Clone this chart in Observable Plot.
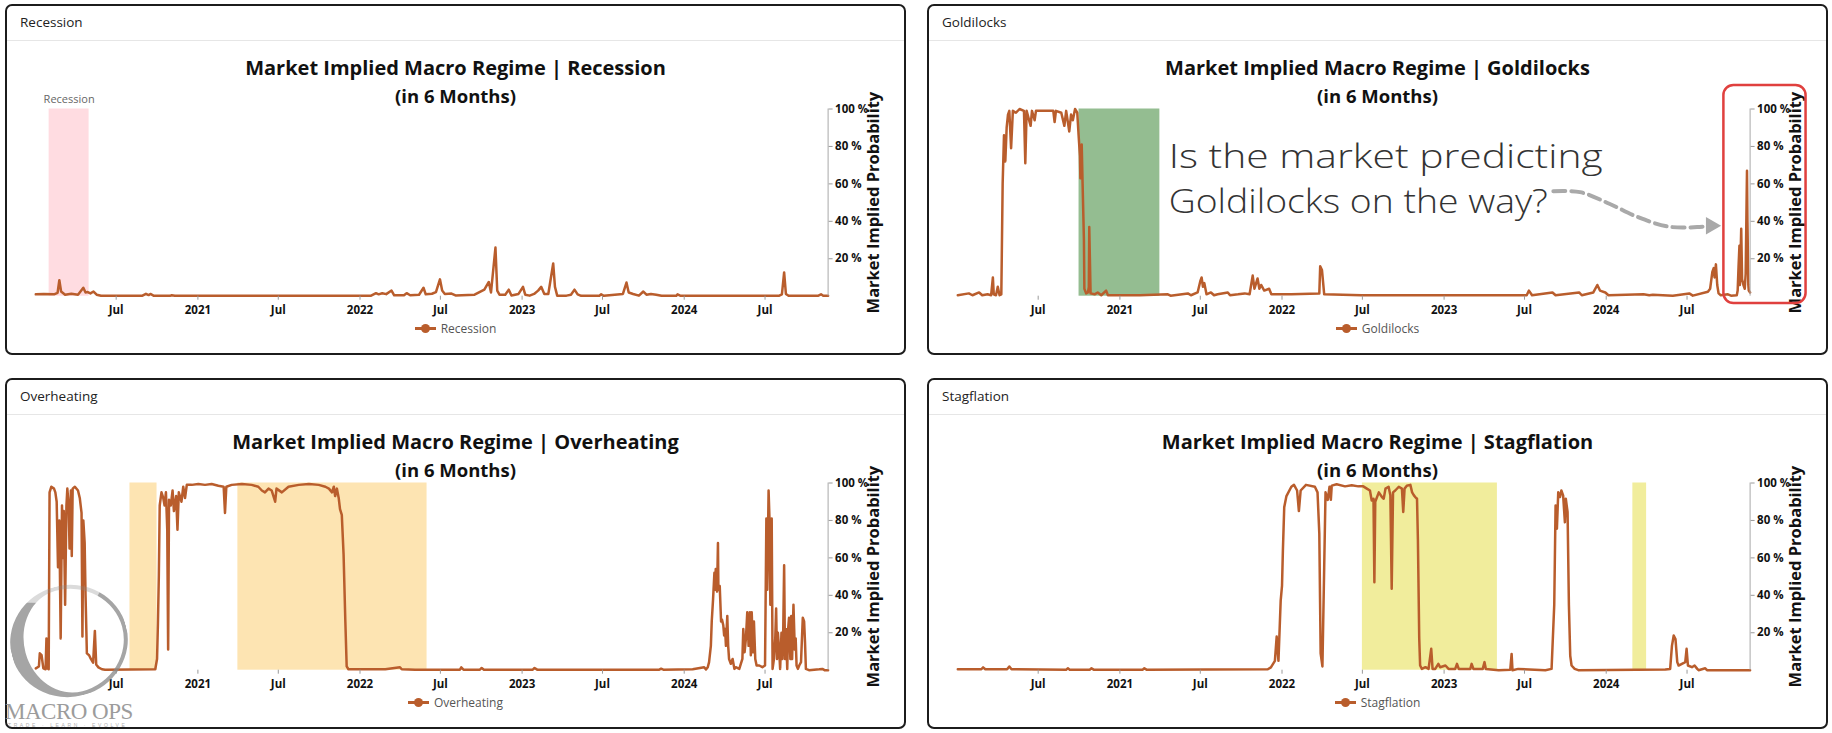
<!DOCTYPE html>
<html>
<head>
<meta charset="utf-8">
<script src="https://cdn.jsdelivr.net/npm/d3@7"></script>
<script src="https://cdn.jsdelivr.net/npm/@observablehq/plot@0.6"></script>
<style>
html,body{margin:0;padding:0;background:#fff;}
body{width:1832px;height:733px;position:relative;overflow:hidden;font-family:"Open Sans",sans-serif;}
.panel{position:absolute;box-sizing:border-box;width:901px;height:351px;border:2px solid #1c1c1c;border-radius:7px;background:#fff;}
.hdr{position:absolute;left:13px;top:7px;font-size:13.5px;line-height:19px;color:#222;}
.sep{position:absolute;left:0;right:0;top:34px;height:1px;background:#e6e6e6;}
.ttl{position:absolute;left:0;right:0;top:49px;text-align:center;font-weight:700;font-size:20px;line-height:26px;color:#111;}
.sub{position:absolute;left:0;right:0;top:78px;text-align:center;font-weight:700;font-size:18.5px;line-height:24px;color:#111;}
.legend{position:absolute;left:0;right:0;top:313px;height:18px;display:flex;justify-content:center;align-items:center;font-size:12px;color:#555;}
.legend .mk{position:relative;width:21px;height:18px;margin-right:5px;}
.legend .mk:before{content:"";position:absolute;left:0;right:0;top:8px;height:2.5px;background:#b95d2c;}
.legend .mk:after{content:"";position:absolute;left:6px;top:5px;width:9px;height:9px;border-radius:50%;background:#b95d2c;}
.chart g[aria-label="x-axis tick"], .chart g[aria-label="y-axis tick"]{stroke:#9a9a9a;}
.wm-ring{position:absolute;left:10px;top:585px;width:118px;height:112px;box-sizing:border-box;border-radius:50%;border:4px solid rgba(135,135,135,0.75);border-left-width:14px;border-top-color:rgba(135,135,135,0.3);z-index:5;transform:rotate(-15deg);}
.wm-text{position:absolute;left:5px;top:699px;font-family:"Liberation Serif",serif;font-size:23px;line-height:26px;color:#9c9c9c;z-index:5;letter-spacing:-0.5px;}
.wm-small{position:absolute;left:8px;top:722px;font-family:"Liberation Sans",sans-serif;font-size:5px;letter-spacing:2.6px;color:#b0b0b0;z-index:5;}
</style>
</head>
<body>
<script>
// ---------- DATA ----------
const xDomain = ["2020-01-02", "2024-11-20"];
const xTickDates = ["2020-07-01","2021-01-01","2021-07-01","2022-01-01","2022-07-01","2023-01-01","2023-07-01","2024-01-01","2024-07-01"];
const xTickLabels = ["Jul","2021","Jul","2022","Jul","2023","Jul","2024","Jul"];
const yTicks = [20, 40, 60, 80, 100];

const recessionSeries = [["2020-01-02",1],["2020-01-20",1.2],["2020-02-12",1],["2020-02-20",1.8],["2020-02-24",8.5],["2020-02-28",2.5],["2020-03-08",0.8],["2020-03-22",1.3],["2020-04-06",0.8],["2020-04-18",4.5],["2020-04-23",2],["2020-04-28",2.2],["2020-05-04",1.5],["2020-05-11",2.5],["2020-05-18",0.8],["2020-05-28",0.2],["2020-08-28",0.2],["2020-09-06",1.3],["2020-09-12",0.6],["2020-09-16",1.2],["2020-09-24",0.2],["2020-10-30",0.2],["2020-11-03",0.5],["2020-11-10",0.2],["2022-01-25",0.2],["2022-02-06",1.6],["2022-02-12",1],["2022-02-20",1.6],["2022-03-01",1.1],["2022-03-13",3],["2022-03-19",0.5],["2022-04-10",0.5],["2022-04-16",1.6],["2022-04-24",0.5],["2022-05-14",0.8],["2022-05-24",4.5],["2022-05-29",1],["2022-06-12",1.3],["2022-06-21",2.2],["2022-06-30",9],["2022-07-05",3],["2022-07-11",1.2],["2022-07-26",1.4],["2022-08-04",0.4],["2022-09-16",0.8],["2022-10-08",3.5],["2022-10-18",7.6],["2022-10-23",2],["2022-11-02",26],["2022-11-06",3],["2022-11-11",0.8],["2022-11-24",0.8],["2022-12-02",3.5],["2022-12-08",0.4],["2022-12-24",1.2],["2023-01-03",5],["2023-01-08",0.8],["2023-01-18",0.3],["2023-01-28",1.2],["2023-02-06",3],["2023-02-13",5],["2023-02-20",1.2],["2023-03-01",1.2],["2023-03-12",17.5],["2023-03-16",5],["2023-03-21",0.3],["2023-04-11",0.3],["2023-04-21",0.8],["2023-04-29",3.5],["2023-05-06",1],["2023-05-14",0.2],["2023-06-24",0.3],["2023-06-28",1],["2023-07-04",0.2],["2023-08-16",1.2],["2023-08-24",7.3],["2023-08-29",2],["2023-09-08",1.2],["2023-09-21",0.3],["2023-10-01",2.5],["2023-10-08",0.8],["2023-10-18",1.2],["2023-10-30",0.8],["2023-11-11",0.2],["2023-12-14",0.2],["2023-12-17",1],["2023-12-24",0.2],["2024-08-01",0.2],["2024-08-08",1],["2024-08-13",12.7],["2024-08-17",1.2],["2024-08-23",0.2],["2024-10-28",0.2],["2024-11-04",1],["2024-11-09",0.2],["2024-11-20",0.2]];

const goldilocksSeries = [["2020-01-02",0.5],["2020-01-27",1.5],["2020-02-04",0.5],["2020-02-19",2],["2020-02-26",0.5],["2020-03-09",1],["2020-03-17",0.5],["2020-03-21",10],["2020-03-23",1],["2020-03-28",0.5],["2020-04-01",5],["2020-04-05",0.5],["2020-04-09",1],["2020-04-12",60],["2020-04-15",86],["2020-04-18",72],["2020-04-21",90],["2020-04-24",97],["2020-04-27",99],["2020-05-01",79],["2020-05-05",99],["2020-05-12",98],["2020-05-20",100],["2020-05-30",99],["2020-06-02",71],["2020-06-05",99],["2020-06-14",91],["2020-06-17",99],["2020-06-23",94],["2020-06-26",99],["2020-07-15",99],["2020-08-04",99],["2020-08-07",93],["2020-08-10",99],["2020-08-22",98],["2020-08-29",91],["2020-09-02",99],["2020-09-09",88],["2020-09-13",97],["2020-09-17",94],["2020-09-22",100],["2020-09-27",98],["2020-09-30",86],["2020-10-03",75],["2020-10-04",63],["2020-10-07",81],["2020-10-09",60],["2020-10-12",30],["2020-10-13",4],["2020-10-17",1.5],["2020-10-21",2],["2020-10-23",5],["2020-10-24",37],["2020-10-27",1.5],["2020-11-05",1],["2020-11-12",2],["2020-11-20",0.5],["2020-12-01",3],["2020-12-05",0.5],["2021-02-15",0.5],["2021-04-19",1],["2021-04-25",0.3],["2021-06-03",1.5],["2021-06-10",0.5],["2021-06-25",2],["2021-07-01",8],["2021-07-04",10],["2021-07-07",5],["2021-07-10",7],["2021-07-15",1],["2021-07-25",2],["2021-08-01",0.5],["2021-08-09",1],["2021-09-01",2],["2021-09-06",0.5],["2021-09-24",1],["2021-10-09",1.5],["2021-10-20",1],["2021-10-27",11],["2021-10-31",4],["2021-11-07",9.5],["2021-11-11",4],["2021-11-15",6],["2021-11-22",3],["2021-12-03",4],["2021-12-08",1],["2022-01-22",1],["2022-03-26",1.5],["2022-03-28",16],["2022-04-01",14],["2022-04-06",1],["2022-06-29",0.5],["2023-07-06",0.5],["2023-07-11",3],["2023-07-18",0.5],["2023-09-02",2],["2023-09-09",0.5],["2023-11-01",2],["2023-11-07",0.5],["2023-12-03",2],["2023-12-12",6],["2023-12-18",3],["2023-12-30",2],["2024-01-06",0.5],["2024-03-25",1],["2024-04-07",0.5],["2024-04-15",0.8],["2024-05-30",0.3],["2024-07-06",1.5],["2024-07-14",0.3],["2024-08-17",2.4],["2024-08-22",4],["2024-08-27",13],["2024-08-30",15],["2024-09-01",10],["2024-09-04",17],["2024-09-07",6],["2024-09-10",1.5],["2024-09-15",0.5],["2024-10-01",1],["2024-10-08",0.3],["2024-10-21",0.5],["2024-10-23",3],["2024-10-25",16],["2024-10-27",27],["2024-10-28",6],["2024-10-31",36],["2024-11-02",9],["2024-11-05",6],["2024-11-08",4],["2024-11-10",12],["2024-11-13",67],["2024-11-14",40],["2024-11-16",6],["2024-11-17",3],["2024-11-20",2]];

const overheatingSeries = [["2020-01-02",1],["2020-01-09",2],["2020-01-11",9],["2020-01-15",8],["2020-01-19",1],["2020-01-24",0.5],["2020-01-26",17],["2020-01-28",1],["2020-01-31",0.5],["2020-02-02",95],["2020-02-06",98],["2020-02-12",97],["2020-02-15",95],["2020-02-18",90],["2020-02-21",55],["2020-02-24",80],["2020-02-27",17],["2020-03-01",88],["2020-03-03",60],["2020-03-05",85],["2020-03-08",35],["2020-03-11",88],["2020-03-13",97],["2020-03-16",88],["2020-03-18",65],["2020-03-21",96],["2020-03-23",61],["2020-03-25",97],["2020-03-30",98],["2020-04-06",96],["2020-04-10",92],["2020-04-14",84],["2020-04-16",18],["2020-04-18",80],["2020-04-21",68],["2020-04-23",40],["2020-04-26",9],["2020-05-01",8],["2020-05-05",6],["2020-05-10",4],["2020-05-14",21],["2020-05-17",3],["2020-05-22",1.5],["2020-05-30",0.5],["2020-06-06",0.2],["2020-09-27",0.5],["2020-10-01",6],["2020-10-03",25],["2020-10-05",50],["2020-10-07",88],["2020-10-11",95],["2020-10-15",92],["2020-10-18",88],["2020-10-21",95],["2020-10-24",75],["2020-10-26",11],["2020-10-28",91],["2020-11-01",88],["2020-11-05",96],["2020-11-08",85],["2020-11-13",93],["2020-11-16",75],["2020-11-19",95],["2020-11-25",90],["2020-11-29",98],["2020-12-03",92],["2020-12-07",99],["2020-12-18",99],["2021-01-02",99.5],["2021-01-17",99],["2021-02-01",99.5],["2021-02-16",98.5],["2021-02-28",98],["2021-03-03",84],["2021-03-06",98],["2021-03-18",99],["2021-04-10",99.5],["2021-05-02",99],["2021-05-17",98],["2021-05-25",96],["2021-06-01",95],["2021-06-09",97],["2021-06-16",96],["2021-06-24",90],["2021-06-27",97],["2021-07-09",95],["2021-07-24",98],["2021-08-16",99],["2021-09-08",99.5],["2021-09-30",99],["2021-10-15",98],["2021-10-23",97],["2021-10-30",95],["2021-11-03",98],["2021-11-06",93],["2021-11-10",97],["2021-11-14",92],["2021-11-17",86],["2021-11-21",83],["2021-11-25",62],["2021-11-29",26],["2021-12-02",2],["2021-12-06",0.5],["2022-01-13",0.5],["2022-02-27",0.5],["2022-04-01",1.6],["2022-04-05",0.5],["2022-05-05",0.3],["2022-08-14",0.3],["2022-08-17",1.5],["2022-08-22",0.3],["2022-09-28",0.3],["2022-10-02",1.2],["2022-10-07",0.3],["2023-01-25",0.3],["2023-01-29",1.2],["2023-02-04",0.3],["2023-11-06",0.3],["2023-11-10",0.8],["2023-11-15",0.3],["2024-01-20",0.5],["2024-02-15",1.6],["2024-02-19",0.4],["2024-02-23",1.6],["2024-02-26",4.3],["2024-03-01",13],["2024-03-03",26],["2024-03-06",38],["2024-03-09",52],["2024-03-11",43],["2024-03-12",54],["2024-03-15",42],["2024-03-17",68],["2024-03-18",43],["2024-03-21",45],["2024-03-24",26],["2024-03-26",27],["2024-03-29",24],["2024-03-31",18.5],["2024-04-02",22],["2024-04-04",13],["2024-04-07",29],["2024-04-09",13],["2024-04-11",6],["2024-04-15",3.4],["2024-04-19",6],["2024-04-23",0.7],["2024-04-26",1.6],["2024-05-04",0.7],["2024-05-11",6],["2024-05-13",22],["2024-05-16",9.6],["2024-05-19",17],["2024-05-22",31],["2024-05-25",13],["2024-05-28",31],["2024-05-30",8],["2024-06-01",31],["2024-06-04",9.6],["2024-06-06",26],["2024-06-09",6],["2024-06-12",2.5],["2024-06-18",2.5],["2024-06-25",1.6],["2024-07-01",2.5],["2024-07-04",81],["2024-07-06",43],["2024-07-09",96],["2024-07-11",81],["2024-07-13",35],["2024-07-16",81],["2024-07-18",0.7],["2024-07-21",6],["2024-07-24",17],["2024-07-26",33],["2024-07-28",6],["2024-07-30",20],["2024-08-02",9.6],["2024-08-04",0.7],["2024-08-07",20],["2024-08-09",6],["2024-08-11",22],["2024-08-13",56],["2024-08-15",6],["2024-08-17",22],["2024-08-20",0.7],["2024-08-22",22],["2024-08-24",28],["2024-08-27",6],["2024-08-29",29],["2024-08-31",6],["2024-09-03",35],["2024-09-06",11],["2024-09-08",17],["2024-09-10",2.5],["2024-09-13",0.7],["2024-09-16",2.5],["2024-09-20",4.3],["2024-09-24",28],["2024-09-27",26],["2024-09-29",15],["2024-10-01",0.7],["2024-10-08",0],["2024-10-31",0.5],["2024-11-07",0.7],["2024-11-12",0],["2024-11-20",0]];

const stagflationSeries = [["2020-01-02",0.5],["2020-02-24",0.5],["2020-02-28",1.5],["2020-03-04",0.5],["2020-04-22",0.5],["2020-04-27",2],["2020-05-02",0.5],["2020-09-02",0.3],["2020-09-06",1],["2020-09-10",0.3],["2020-10-25",0.3],["2020-10-29",1],["2020-11-03",0.3],["2021-02-21",0.3],["2021-02-25",1],["2021-03-02",0.3],["2021-11-30",0.5],["2021-12-07",1.5],["2021-12-16",5],["2021-12-20",18],["2021-12-24",5],["2021-12-29",37],["2022-01-01",45],["2022-01-03",64],["2022-01-06",87],["2022-01-11",93],["2022-01-22",98],["2022-01-28",99],["2022-02-04",96],["2022-02-08",85],["2022-02-12",96],["2022-02-24",99],["2022-03-16",98],["2022-03-22",95],["2022-03-26",73],["2022-03-29",9],["2022-04-02",2],["2022-04-06",55],["2022-04-09",95],["2022-04-14",91],["2022-04-18",98],["2022-04-21",91],["2022-04-23",98.6],["2022-05-04",99.3],["2022-05-23",98.2],["2022-06-07",98.8],["2022-06-22",98.2],["2022-07-03",98.2],["2022-07-11",97],["2022-07-18",96],["2022-07-22",90.7],["2022-07-26",91.6],["2022-07-28",47],["2022-07-30",90],["2022-08-07",95],["2022-08-14",92.5],["2022-08-18",91.6],["2022-08-22",97],["2022-08-29",98],["2022-09-02",93.4],["2022-09-05",43.5],["2022-09-08",95],["2022-09-13",96],["2022-09-21",98],["2022-09-28",97],["2022-10-01",84.5],["2022-10-04",97],["2022-10-09",98.5],["2022-10-17",99],["2022-10-21",95],["2022-10-25",93.4],["2022-10-28",92.5],["2022-11-01",91.6],["2022-11-03",70],["2022-11-06",17],["2022-11-08",2.5],["2022-11-12",0.7],["2022-11-20",1.6],["2022-11-27",0.7],["2022-12-03",11.4],["2022-12-06",0.7],["2022-12-12",0.7],["2022-12-19",3.4],["2022-12-23",1.6],["2023-01-04",2.5],["2023-01-11",0.7],["2023-01-26",0.7],["2023-01-30",3.4],["2023-02-03",0.7],["2023-03-01",0.7],["2023-03-04",3.4],["2023-03-08",0.7],["2023-03-29",0.7],["2023-04-02",4.3],["2023-04-05",0.7],["2023-05-04",0],["2023-05-30",0.3],["2023-06-02",8.7],["2023-06-04",0],["2023-06-17",0.7],["2023-08-17",0],["2023-08-31",0.7],["2023-09-06",35],["2023-09-09",88],["2023-09-12",75.6],["2023-09-15",95],["2023-09-19",92.5],["2023-09-22",96],["2023-09-26",93.4],["2023-09-30",79],["2023-10-02",91.6],["2023-10-06",84.5],["2023-10-09",35],["2023-10-12",7.7],["2023-10-15",2.5],["2023-10-22",0.7],["2023-10-30",0],["2024-05-13",0.4],["2024-05-24",0.7],["2024-05-28",13],["2024-06-01",18.5],["2024-06-05",16.6],["2024-06-09",4.3],["2024-06-12",2.5],["2024-06-27",4.3],["2024-06-30",11.4],["2024-07-03",2.5],["2024-07-12",1.6],["2024-07-18",2.5],["2024-07-24",0.7],["2024-07-27",0],["2024-08-11",1],["2024-08-15",0],["2024-11-20",0]];

const recessionBands   = [{start:"2020-02-01", end:"2020-05-01", label:"Recession"}];
const goldilocksBands  = [{start:"2020-10-01", end:"2021-04-01"}];
const overheatingBands = [{start:"2020-08-01", end:"2020-10-01"}, {start:"2021-04-01", end:"2022-06-01"}];
const stagflationBands = [{start:"2022-07-01", end:"2023-05-01"}, {start:"2024-03-01", end:"2024-04-01"}];

// Goldilocks annotation (anchored in data space)
const goldilocksNote = [
  {date:"2021-04-21", value:74.3, text:"Is the market predicting"},
  {date:"2021-04-21", value:50.2, text:"Goldilocks on the way?"}
];
const goldilocksNoteWidths = [434, 379];
const goldilocksArrow = [["2023-09-04",56.1],["2023-11-03",55.6],["2024-01-08",49.4],["2024-03-13",42.2],["2024-05-19",37.2],["2024-07-24",36.9],["2024-08-24",37.6]];
const goldilocksHighlight = [{x1:"2024-09-22", x2:"2025-03-26", y1:-3.9, y2:112.6}];

// ---------- BUILD ----------
const LINE = "#b95d2c";
const tickLabel = new Map(xTickDates.map((d, i) => [+new Date(d), xTickLabels[i]]));
const D = s => new Date(s);

const panels = [
  {name:"Recession",   left:5,   top:4,   series:recessionSeries,   bands:recessionBands,   fill:"#ffdce1"},
  {name:"Goldilocks",  left:927, top:4,   series:goldilocksSeries,  bands:goldilocksBands,  fill:"#94bd91", note:true},
  {name:"Overheating", left:5,   top:378, series:overheatingSeries, bands:overheatingBands, fill:"#fde4b2"},
  {name:"Stagflation", left:927, top:378, series:stagflationSeries, bands:stagflationBands, fill:"#f1ed9c"}
];

for (const p of panels) {
  const div = document.createElement("div");
  div.className = "panel";
  div.style.left = p.left + "px";
  div.style.top = p.top + "px";

  const marks = [
    Plot.rect(p.bands, {x1: d => D(d.start), x2: d => D(d.end), y1: 0, y2: 100, fill: p.fill}),
    Plot.text(p.bands.filter(d => d.label), {x: d => new Date((+D(d.start) + +D(d.end)) / 2), frameAnchor: "top", dy: -14, text: d => d.label, fontSize: 11, fill: "#666"}),
    Plot.lineY(p.series, {x: d => D(d[0]), y: d => d[1], stroke: LINE, strokeWidth: 2.5, strokeLinejoin: "round"}),
    Plot.ruleX([D(xDomain[1])], {stroke: "#a8a8a8", strokeWidth: 1}),
    Plot.axisX({ticks: xTickDates.map(D), tickFormat: d => tickLabel.get(+d), tickSize: 4, tickPadding: 6, fontSize: 11.5, fontWeight: 700, label: null}),
    Plot.axisY({anchor: "right", ticks: yTicks, tickFormat: d => d + " %", tickSize: 4, tickPadding: 3, fontSize: 11.5, fontWeight: 700, label: null}),
    Plot.text(["Market Implied Probability"], {text: d => d, frameAnchor: "right", textAnchor: "middle", lineAnchor: "middle", rotate: -90, dx: 46, fontSize: 16.5, fontWeight: 700, fill: "#111"})
  ];
  if (p.note) {
    marks.push(
      Plot.text(goldilocksNote, {x: d => D(d.date), y: "value", text: "text", textAnchor: "start", fontSize: 33, fontWeight: 300, fill: "#333", fontFamily: "Open Sans"}),
      Plot.line(goldilocksArrow, {x: d => D(d[0]), y: d => d[1], curve: "catmull-rom", stroke: "#a9a9a9", strokeWidth: 4, strokeDasharray: "12,6"}),
      Plot.dot(goldilocksArrow.slice(-1), {x: d => D(d[0]), y: d => d[1], symbol: "triangle", rotate: 90, r: 6.5, fill: "#a9a9a9"}),
      Plot.rect(goldilocksHighlight, {x1: d => D(d.x1), x2: d => D(d.x2), y1: "y1", y2: "y2", rx: 10, fill: "none", stroke: "#e0403e", strokeWidth: 2.5})
    );
  }

  const chart = Plot.plot({
    width: 897, height: 236,
    marginLeft: 28.3, marginRight: 76.4, marginTop: 22.5, marginBottom: 26.3,
    x: {type: "utc", domain: xDomain.map(D)},
    y: {domain: [0, 100]},
    style: {fontFamily: "Open Sans", fontSize: "11.5px", background: "transparent", overflow: "visible", color: "#111"},
    marks
  });
  chart.classList.add("chart");
  chart.style.position = "absolute";
  chart.style.left = "0px";
  chart.style.top = "80px";
  if (p.note) {
    const texts = goldilocksNote.map(n => n.text);
    d3.select(chart).selectAll("text").each(function() {
      const i = texts.indexOf(this.textContent);
      if (i >= 0) {
        this.setAttribute("textLength", goldilocksNoteWidths[i]);
        this.setAttribute("lengthAdjust", "spacingAndGlyphs");
      }
    });
  }

  div.innerHTML = `<div class="hdr">${p.name}</div><div class="sep"></div>`;
  div.appendChild(chart);
  const t = document.createElement("div"); t.className = "ttl"; t.textContent = `Market Implied Macro Regime | ${p.name}`;
  const s = document.createElement("div"); s.className = "sub"; s.textContent = "(in 6 Months)";
  const lg = document.createElement("div"); lg.className = "legend"; lg.innerHTML = `<span class="mk"></span><span>${p.name}</span>`;
  div.appendChild(t); div.appendChild(s); div.appendChild(lg);
  document.body.appendChild(div);
}

// watermark
const ring = document.createElement("div"); ring.className = "wm-ring"; document.body.appendChild(ring);
const wm = document.createElement("div"); wm.className = "wm-text"; wm.textContent = "MACRO OPS"; document.body.appendChild(wm);
const wms = document.createElement("div"); wms.className = "wm-small"; wms.textContent = "TRADE · LEARN · EVOLVE"; document.body.appendChild(wms);
</script>
</body>
</html>
